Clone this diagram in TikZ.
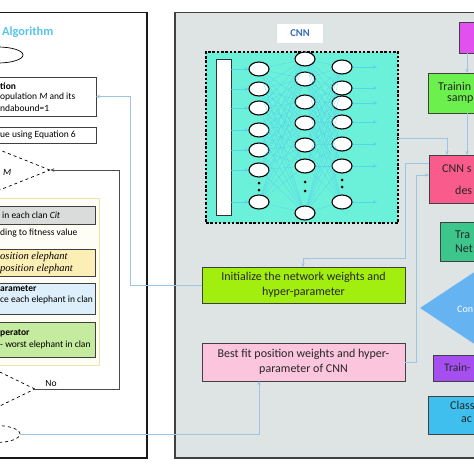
\documentclass[tikz,border=0pt]{standalone}
\usepackage{fontspec}
\setmainfont{Carlito}
\newfontfamily\serifit{Liberation Serif}
\usetikzlibrary{shapes.geometric,arrows.meta,calc}
\definecolor{panelgray}{HTML}{DEE3E4}
\definecolor{linkblue}{HTML}{9CC5E3}
\definecolor{titlecyan}{HTML}{55C5EE}
\definecolor{cnncyan}{HTML}{6BF0DA}
\definecolor{meshc}{HTML}{4FCFEF}
\definecolor{initgreen}{HTML}{A2EE0E}
\definecolor{bestpink}{HTML}{FBC6DD}
\definecolor{dsmag}{HTML}{E250F0}
\definecolor{traingreen}{HTML}{6BF04E}
\definecolor{cnnpink}{HTML}{F95B8C}
\definecolor{tealbox}{HTML}{3DC68C}
\definecolor{diablue}{HTML}{66B3F2}
\definecolor{purplebox}{HTML}{A54FF0}
\definecolor{classcyan}{HTML}{3FBFEE}
\definecolor{grayb}{HTML}{DADBDB}
\definecolor{yellowb}{HTML}{FCEFB5}
\definecolor{blueb}{HTML}{DDEFFA}
\definecolor{greenb}{HTML}{C5EB9F}
\definecolor{ycont}{HTML}{F2E3A6}
\definecolor{ycontfill}{HTML}{FFFEF6}
\definecolor{cnnblue}{HTML}{3C6DB4}
\newcommand\mybox[6]{\node[boxst,#6,minimum width={#4-#2}, minimum height={#5-#3}] (#1) at ({(#2+#4)/2},{(#3+#5)/2}) {};}
\begin{document}
\begin{tikzpicture}[x=1pt,y=-1pt,
  boxst/.style={draw=black!75, line width=0.8pt, inner sep=0pt, outer sep=0pt, rectangle},
  lbl/.style={anchor=west, inner sep=0pt, font=\fontsize{9.5}{11}\selectfont},
  blbl/.style={lbl, font=\bfseries\fontsize{9.5}{11}\selectfont},
  rlbl/.style={anchor=west, inner sep=0pt, font=\fontsize{12}{14}\selectfont, text=black!85},
  link/.style={draw=linkblue, line width=0.7pt},
  tip/.style={-{Stealth[length=4pt,width=3.5pt]}},
  neuron/.style={ellipse, draw=black, line width=1.1pt, fill=white, minimum width=20pt, minimum height=14pt, inner sep=0pt},
  meshline/.style={draw=meshc, line width=0.3pt, opacity=0.75},
  dotst/.style={circle, fill=black, inner sep=0pt, minimum size=3pt}]
\useasboundingbox (0,0) rectangle (474,474);
\clip (0,0) rectangle (474,474);
\fill[white] (0,0) rectangle (474,474);

% ---------- left panel ----------
\node[draw=black!90, line width=1.8pt, fill=white, minimum width=167, minimum height=445.5, inner sep=0pt] (leftpanel) at (63.5,235.25) {};
\node[anchor=west, inner sep=0pt, text=titlecyan, font=\bfseries\fontsize{12.3}{14}\selectfont] (title) at (2,32) {Algorithm};
\node[ellipse, draw=black, line width=0.7pt, minimum width=50, minimum height=16, inner sep=0pt] (start) at (-2,55) {};

\mybox{initbox}{-20}{77}{96}{116}{fill=white}
\node[blbl] (t1a) at (0,86) {tion};
\node[lbl] (t1b) at (0,97) {opulation \textit{M} and its};
\node[lbl] (t1c) at (0,108) {ndabound=1};

\mybox{eqbox}{-20}{127}{96}{143}{fill=white}
\node[lbl] (t2) at (0,135) {ue using Equation 6};

\node[diamond, draw=black, dashed, line width=0.7pt, minimum width=110, minimum height=44, aspect=2.5, inner sep=0pt] (dia1) at (-5,170) {};
\node[lbl, font=\itshape\fontsize{9.5}{11}\selectfont] (tm) at (3,172) {M};

\mybox{ycontainer}{-20}{198}{99}{365}{draw=ycont, fill=ycontfill, line width=1pt}
\mybox{graybox}{-20}{206}{95}{224}{fill=grayb}
\node[lbl] (t3) at (2,215) {in each clan \textit{Cit}};
\node[lbl] (t4) at (0,233) {ding to fitness value};
\mybox{yelbox}{-20}{249}{95}{276}{fill=yellowb}
\node[lbl, font=\serifit\itshape\fontsize{10.5}{12}\selectfont] (t5a) at (0,257) {osition elephant};
\node[lbl, font=\serifit\itshape\fontsize{10.5}{12}\selectfont] (t5b) at (0,268.5) {position elephant};
\mybox{bluebox}{-20}{283}{95}{314}{fill=blueb}
\node[blbl] (t6a) at (0,288.5) {arameter};
\node[lbl] (t6b) at (0,300) {ce each elephant in clan};
\mybox{grnbox}{-20}{322}{95}{357}{fill=greenb}
\node[blbl] (t7a) at (0,333) {perator};
\node[lbl] (t7b) at (0,345) {- worst elephant in clan};

\node[diamond, draw=black, dashed, line width=0.7pt, minimum width=74, minimum height=36, aspect=2, inner sep=0pt] (dia2) at (-2,389) {};
\node[inner sep=0pt, font=\fontsize{9.5}{11}\selectfont] (no) at (51,383) {No};
\node[ellipse, draw=black, dashed, line width=0.7pt, minimum width=48, minimum height=17, inner sep=0pt] (stop) at (-4,434) {};

\draw[draw=black!70, line width=0.7pt, -{Stealth[length=4pt,width=3.5pt]}] (dia2.east) -- (119,389) |- (dia1.east);

% ---------- right panel ----------
\node[draw=black!75, line width=1.8pt, fill=panelgray, minimum width=320, minimum height=445.5, inner sep=0pt] (rightpanel) at (335,235.25) {};

\node[fill=white, minimum width=46, minimum height=19, inner sep=0pt, text=cnnblue, font=\bfseries\fontsize{10.5}{12}\selectfont] (cnnlabel) at (300,33.5) {CNN};
\mybox{cnnarea}{206}{52}{398}{223}{fill=cnncyan, draw=black, dash pattern=on 2.5pt off 1.8pt, line width=1.3pt}
\mybox{inbar}{216}{59}{231}{215}{fill=white, draw=black!80}

\foreach \y [count=\i] in {69,89,108,130,150,170,202} \node[neuron] (a\i) at (259,\y) {};
\foreach \y [count=\i] in {59,79,102,123,145,166,213} \node[neuron] (b\i) at (305,\y) {};
\foreach \y [count=\i] in {67,88,103,122,144,166,202} {
  \node[neuron] (c\i) at (342,\y) {};
  \coordinate (o\i) at (377,\y);
}
\foreach \i in {1,...,7} {
  \foreach \j in {1,...,7} {
    \draw[meshline] (a\i) -- (b\j);
    \draw[meshline] (b\i) -- (c\j);
  }
  \draw[meshline, tip] (inbar.east |- a\i) -- (a\i.west);
  \draw[meshline, tip] (c\i.east) -- (o\i);
}
\node[dotst] (da1) at (259,183) {};
\node[dotst] (da2) at (259,190) {};
\node[dotst] (db1) at (305,182) {};
\node[dotst] (db2) at (305,191) {};
\node[dotst] (dc1) at (342,180) {};
\node[dotst] (dc2) at (342,187) {};

\mybox{initnet}{202}{267}{405}{303}{fill=initgreen}
\node[align=center, inner sep=0pt, font=\fontsize{12}{15}\selectfont, text=black!85] (initt) at (303.5,285) {Initialize the network weights and\\hyper-parameter};
\mybox{bestfit}{202}{343}{405}{381}{fill=bestpink}
\node[align=center, inner sep=0pt, font=\fontsize{12}{15}\selectfont, text=black!85] (bestt) at (303.5,362) {Best fit position weights and hyper-\\parameter of CNN};

\mybox{dataset}{459}{22}{500}{53}{fill=dsmag}
\mybox{trainsamp}{428}{73}{500}{113}{fill=traingreen}
\node[rlbl] (ts1) at (438,86) {Trainin};
\node[rlbl] (ts2) at (447,100) {samp};
\mybox{cnnstruct}{429}{155}{500}{203}{fill=cnnpink}
\node[rlbl] (cs1) at (442,169) {CNN s};
\node[rlbl] (cs2) at (455,190) {des};
\mybox{trainnet}{440}{222}{500}{261}{fill=tealbox}
\node[rlbl] (tn1) at (455,235) {Tra};
\node[rlbl] (tn2) at (455,249) {Net};
\node[diamond, fill=diablue, minimum width=148, minimum height=98, aspect=1.5, inner sep=0pt] (conv) at (494,308) {};
\node[rlbl, text=white, font=\fontsize{10}{12}\selectfont] (cv) at (457,309) {Con};
\mybox{trainacc}{433}{355}{500}{381}{fill=purplebox}
\node[rlbl, font=\fontsize{11.5}{13}\selectfont] (ta) at (444,368) {Train-};
\mybox{classacc}{428}{396}{500}{434}{fill=classcyan}
\node[rlbl] (ca1) at (450,405) {Class};
\node[rlbl] (ca2) at (461,420) {ac};

% ---------- connectors ----------
\draw[link, tip] (dataset.south -| 467,0) -- (trainsamp.north -| 467,0);
\draw[link, tip] (trainsamp.south -| 467,0) -- (cnnstruct.north -| 467,0);
\draw[link, tip] (cnnarea.east |- 0,138) -| (cnnstruct.north -| 447,0);
\draw[link, tip] (cnnstruct.west |- 0,163) -- (405,163) |- (303,258) -- (initnet.north -| 303,0);
\draw[link, tip] (bestfit.east) -- (416,362) |- (cnnstruct.west |- 0,175);
\draw[link, tip] (initnet.west) -- (130,285) |- (initbox.east);
\draw[link, tip] (stop.east) -- (259,434) -- (bestfit.south -| 259,0);
\end{tikzpicture}
\end{document}
